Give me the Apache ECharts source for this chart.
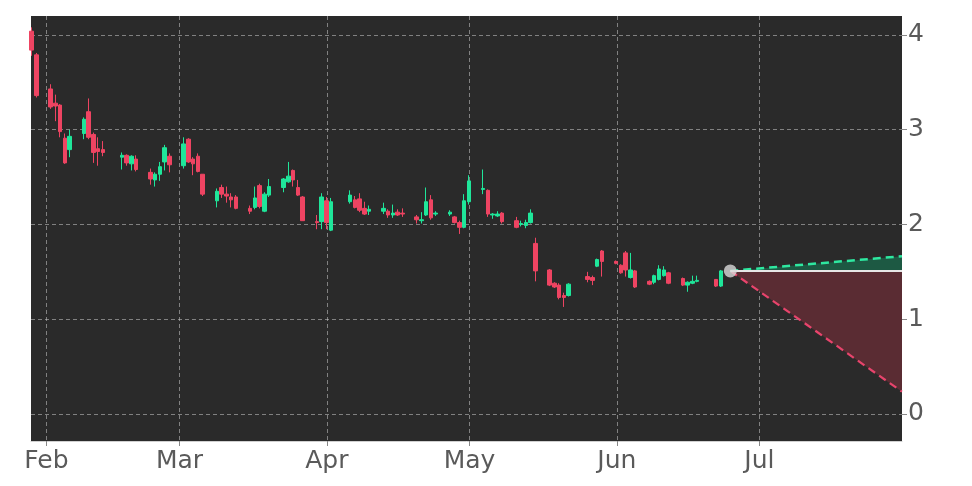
<!DOCTYPE html>
<html>
<head>
<meta charset="utf-8">
<script src="https://cdn.jsdelivr.net/npm/echarts@6/dist/echarts.min.js"></script>
<style>
html,body{margin:0;padding:0;background:#ffffff;}
#chart{width:972px;height:486px;}
</style>
</head>
<body>
<div id="chart"></div>
<script>
// ---- data ----
const dates = [
 '2021-01-28','2021-01-29',
 '2021-02-01','2021-02-02','2021-02-03','2021-02-04','2021-02-05',
 '2021-02-08','2021-02-09','2021-02-10','2021-02-11','2021-02-12',
 '2021-02-16','2021-02-17','2021-02-18','2021-02-19',
 '2021-02-22','2021-02-23','2021-02-24','2021-02-25','2021-02-26',
 '2021-03-01','2021-03-02','2021-03-03','2021-03-04','2021-03-05',
 '2021-03-08','2021-03-09','2021-03-10','2021-03-11','2021-03-12',
 '2021-03-15','2021-03-16','2021-03-17','2021-03-18','2021-03-19',
 '2021-03-22','2021-03-23','2021-03-24','2021-03-25','2021-03-26',
 '2021-03-29','2021-03-30','2021-03-31','2021-04-01',
 '2021-04-05','2021-04-06','2021-04-07','2021-04-08','2021-04-09',
 '2021-04-12','2021-04-13','2021-04-14','2021-04-15','2021-04-16',
 '2021-04-19','2021-04-20','2021-04-21','2021-04-22','2021-04-23',
 '2021-04-26','2021-04-27','2021-04-28','2021-04-29','2021-04-30',
 '2021-05-03','2021-05-04','2021-05-05','2021-05-06','2021-05-07',
 '2021-05-10','2021-05-11','2021-05-12','2021-05-13','2021-05-14',
 '2021-05-17','2021-05-18','2021-05-19','2021-05-20','2021-05-21',
 '2021-05-25','2021-05-26','2021-05-27','2021-05-28',
 '2021-05-31','2021-06-01','2021-06-02','2021-06-03','2021-06-04',
 '2021-06-07','2021-06-08','2021-06-09','2021-06-10','2021-06-11',
 '2021-06-14','2021-06-15','2021-06-16','2021-06-17',
 '2021-06-21','2021-06-22'
];
const opens = [
 4.04,3.79,
 3.43,3.28,3.26,2.91,2.79,
 2.96,3.19,2.95,2.80,2.79,
 2.71,2.73,2.64,2.69,
 2.55,2.47,2.53,2.66,2.72,
 2.62,2.90,2.69,2.72,2.53,
 2.25,2.39,2.32,2.29,2.29,
 2.17,2.18,2.41,2.14,2.31,
 2.39,2.45,2.57,2.39,2.29,
 2.03,2.03,2.25,1.94,
 2.24,2.26,2.27,2.17,2.14,
 2.14,2.14,2.10,2.13,2.12,
 2.08,2.04,2.10,2.26,2.11,
 2.11,2.08,2.02,1.97,2.24,
 2.37,2.36,2.10,2.09,2.12,
 2.04,2.00,1.99,2.02,1.80,
 1.52,1.38,1.36,1.25,1.25,
 1.45,1.44,1.56,1.72,
 1.61,1.57,1.70,1.44,1.51,
 1.40,1.39,1.42,1.46,1.49,
 1.43,1.36,1.38,1.40,
 1.42,1.35
];
const closes = [
 3.84,3.36,
 3.24,3.25,2.98,2.65,2.93,
 3.11,2.92,2.76,2.77,2.76,
 2.73,2.65,2.72,2.58,
 2.48,2.53,2.61,2.81,2.63,
 2.85,2.66,2.64,2.56,2.32,
 2.35,2.32,2.30,2.26,2.17,
 2.14,2.28,2.19,2.32,2.40,
 2.48,2.51,2.47,2.31,2.04,
 2.02,2.29,2.02,2.24,
 2.31,2.18,2.15,2.11,2.16,
 2.17,2.10,2.12,2.10,2.11,
 2.05,2.05,2.24,2.07,2.12,
 2.13,2.02,1.97,2.25,2.46,
 2.38,2.11,2.11,2.11,2.03,
 1.97,2.01,2.02,2.12,1.51,
 1.36,1.34,1.23,1.23,1.37,
 1.42,1.41,1.63,1.61,
 1.59,1.49,1.52,1.52,1.34,
 1.37,1.46,1.53,1.52,1.38,
 1.36,1.39,1.40,1.41,
 1.35,1.51
];
const lows = [
 3.78,3.34,
 3.22,3.09,2.92,2.64,2.71,
 2.90,2.90,2.65,2.62,2.72,
 2.58,2.62,2.57,2.56,
 2.42,2.40,2.46,2.57,2.55,
 2.59,2.65,2.52,2.55,2.30,
 2.18,2.28,2.23,2.18,2.16,
 2.11,2.16,2.17,2.13,2.29,
 2.34,2.44,2.40,2.30,2.04,
 1.95,1.95,1.95,1.93,
 2.22,2.17,2.13,2.10,2.10,
 2.11,2.07,2.07,2.09,2.08,
 2.01,2.01,2.09,2.05,2.09,
 2.09,2.01,1.90,1.96,2.21,
 2.32,2.08,2.06,2.08,2.01,
 1.96,1.98,1.96,2.01,1.40,
 1.35,1.33,1.21,1.13,1.24,
 1.39,1.36,1.55,1.45,
 1.58,1.48,1.45,1.43,1.33,
 1.36,1.37,1.41,1.45,1.37,
 1.35,1.29,1.37,1.39,
 1.34,1.34
];
const highs = [
 4.08,3.81,
 3.48,3.37,3.27,2.96,3.00,
 3.13,3.33,2.97,2.92,2.88,
 2.76,2.74,2.73,2.73,
 2.59,2.55,2.66,2.84,2.75,
 2.92,2.91,2.71,2.75,2.53,
 2.38,2.42,2.40,2.33,2.31,
 2.20,2.40,2.43,2.34,2.48,
 2.49,2.66,2.58,2.47,2.30,
 2.10,2.33,2.29,2.28,
 2.36,2.30,2.33,2.24,2.20,
 2.23,2.16,2.21,2.16,2.17,
 2.10,2.13,2.39,2.31,2.14,
 2.15,2.09,2.04,2.32,2.52,
 2.58,2.37,2.12,2.14,2.13,
 2.08,2.04,2.05,2.16,1.86,
 1.53,1.39,1.38,1.28,1.38,
 1.50,1.46,1.64,1.73,
 1.62,1.58,1.72,1.70,1.52,
 1.41,1.47,1.57,1.56,1.50,
 1.44,1.40,1.46,1.46,
 1.42,1.52
];
// forecast
const forecastDates = ['2021-06-24', '2021-07-31'];
const forecastMid  = [1.51, 1.51];
const forecastHigh = [1.51, 1.665];
const forecastLow  = [1.51, 0.235];
const yTicks = [0, 1, 2, 3, 4];
const monthNames = ['Jan','Feb','Mar','Apr','May','Jun','Jul','Aug','Sep','Oct','Nov','Dec'];

// ---- build ----
const HOUR = 3600 * 1000;
function ts(s, shiftHours) {
  const p = s.split('-').map(Number);
  return Date.UTC(p[0], p[1] - 1, p[2]) + shiftHours * HOUR;
}
const candleData = dates.map((d, i) => [ts(d, 21), opens[i], closes[i], lows[i], highs[i]]);
const fT0 = ts(forecastDates[0], 21);
const fT1 = ts(forecastDates[1], 0);
const midLine = [[fT0, forecastMid[0]], [fT1, forecastMid[1]]];
const highLine = [[fT0, forecastHigh[0]], [fT1, forecastHigh[1]]];
const lowLine = [[fT0, forecastLow[0]], [fT1, forecastLow[1]]];

const UP = '#1fe69a', DOWN = '#ee4462';
const gridLineStyle = { color: 'rgba(200,200,200,0.55)', width: 1, type: [4, 3] };

const chart = echarts.init(document.getElementById('chart'), null, { renderer: 'canvas' });
chart.setOption({
  animation: false,
  useUTC: true,
  backgroundColor: '#ffffff',
  grid: { left: 31, right: 70, top: 16, bottom: 45, show: true, backgroundColor: '#2a2a2a', borderWidth: 0 },
  xAxis: {
    type: 'time',
    min: ts('2021-01-28', 18),
    max: ts('2021-07-31', 0),
    axisLine: { show: true, onZero: false, lineStyle: { color: '#d0d0d0', width: 1 } },
    axisTick: { show: true, length: 5, lineStyle: { color: '#888', width: 1 } },
    axisLabel: {
      color: '#5a5a5a', fontSize: 25, fontFamily: 'DejaVu Sans', margin: 8,
      formatter: function (v) { return monthNames[new Date(v).getUTCMonth()]; }
    },
    splitLine: { show: true, showMinLine: false, showMaxLine: false, lineStyle: gridLineStyle }
  },
  yAxis: {
    type: 'value',
    position: 'right',
    min: -0.285,
    max: 4.2,
    axisLine: { show: false },
    axisTick: { show: true, length: 5, customValues: yTicks, lineStyle: { color: '#888', width: 1 } },
    axisLabel: {
      color: '#5a5a5a', fontSize: 25, fontFamily: 'DejaVu Sans', margin: 6,
      customValues: yTicks,
      formatter: function (v) { return String(Math.round(v)); }
    },
    splitLine: { show: true, lineStyle: gridLineStyle }
  },
  series: [
    {
      type: 'candlestick',
      data: candleData,
      barWidth: 4,
      clip: true,
      itemStyle: { color: UP, color0: DOWN, borderColor: UP, borderColor0: DOWN, borderWidth: 1 },
      z: 3
    },
    {
      type: 'line', data: lowLine, symbol: 'none', silent: true,
      lineStyle: { color: '#e8446c', width: 2.2, type: [8, 5] },
      areaStyle: { color: '#5a2c33', opacity: 1, origin: 1.51 },
      z: 2
    },
    {
      type: 'line', data: highLine, symbol: 'none', silent: true,
      lineStyle: { color: '#2ee8a0', width: 2.5, type: [8, 5] },
      areaStyle: { color: '#1d5943', opacity: 1, origin: 1.51 },
      z: 2
    },
    {
      type: 'line', data: midLine, symbol: 'none', silent: true,
      lineStyle: { color: '#e6e6e6', width: 2 },
      z: 4
    },
    {
      type: 'scatter', data: [midLine[0]], symbol: 'circle', symbolSize: 13,
      itemStyle: { color: '#d9d9d9' }, z: 5
    }
  ]
});
</script>
</body>
</html>
